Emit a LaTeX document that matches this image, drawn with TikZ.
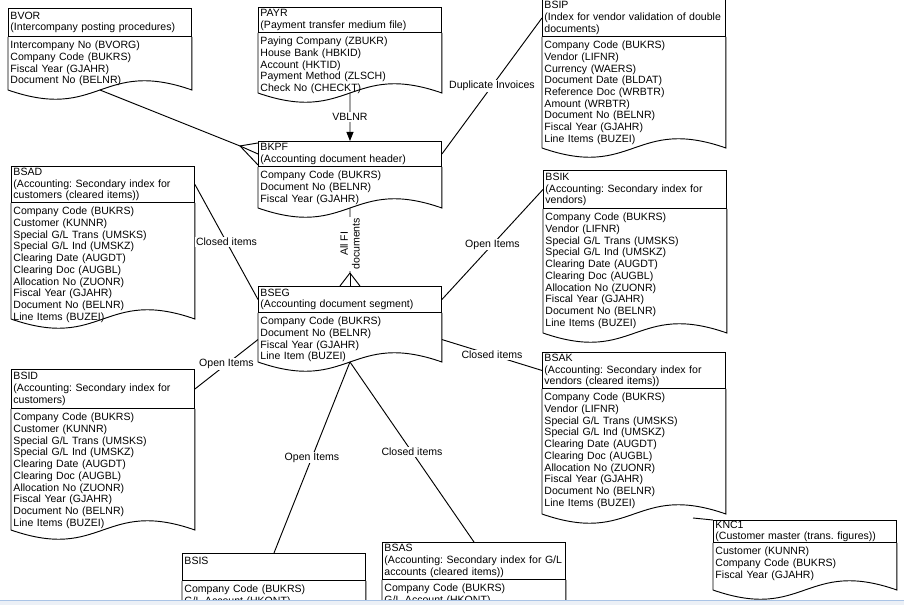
\documentclass[tikz,border=0pt]{standalone}
\usepackage{fontspec}
\setmainfont{Liberation Sans}
\usetikzlibrary{arrows.meta,calc}
\frenchspacing

\definecolor{framebar}{RGB}{170,196,230}
\definecolor{framefill}{RGB}{236,240,246}

\tikzset{
  tbltitle/.style={draw, anchor=north west, align=left, text width=53.7mm,
    inner xsep=0.6mm, inner ysep=0pt, font=\fontsize{9}{10}\selectfont},
  tblfields/.style={anchor=north west, align=left, text width=53.7mm,
    inner xsep=0.6mm, inner ysep=1.1mm, font=\fontsize{9}{10}\selectfont},
  lbl/.style={fill=white, inner sep=1pt, font=\fontsize{9}{10}\selectfont},
}

% tabla: nombre, x, y arriba, y separador, y bajo, titulo, campos
\newcommand{\erbox}[7]{%
  \pgfmathsetmacro\erh{(#4)-(#3)}
  \node[tbltitle, minimum height=\erh*0.3mm] (#1) at (#2,#3) {#6};
  \node[tblfields] (#1-f) at (#1.south west) {#7};
  \draw (#1.south west) -- (#1.south west |- 0,#5)
    .. controls +(91.5,32) and +(-91.5,-32) .. (#1.south east |- 0,#5)
    coordinate[pos=0.5] (#1-w) -- (#1.south east);
}

\begin{document}
\begin{tikzpicture}[x=0.3mm, y=-0.3mm, line width=0.8pt]
\useasboundingbox (0,0) rectangle (904,605);
\clip (0,0) rectangle (904,605);

% Tablas
\erbox{bvor}{8}{8}{36}{90}{BVOR\\(Intercompany posting procedures)}
  {Intercompany No (BVORG)\\Company Code (BUKRS)\\Fiscal Year (GJAHR)\\Document No (BELNR)}
\erbox{payr}{258}{7}{32}{93}{PAYR\\(Payment transfer medium file)}
  {Paying Company (ZBUKR)\\House Bank (HBKID)\\Account (HKTID)\\Payment Method (ZLSCH)\\Check No (CHECKT)}
\erbox{bsip}{542}{-1}{36}{148}{BSIP\\(Index for vendor validation of double\\documents)}
  {Company Code (BUKRS)\\Vendor (LIFNR)\\Currency (WAERS)\\Document Date (BLDAT)\\Reference Doc (WRBTR)\\Amount (WRBTR)\\Document No (BELNR)\\Fiscal Year (GJAHR)\\Line Items (BUZEI)}
\erbox{bkpf}{258}{141}{166}{208}{BKPF\\(Accounting document header)}
  {Company Code (BUKRS)\\Document No (BELNR)\\Fiscal Year (GJAHR)}
\erbox{bsad}{11}{166}{202}{319}{BSAD\\(Accounting: Secondary index for\\customers (cleared items))}
  {Company Code (BUKRS)\\Customer (KUNNR)\\Special G/L Trans (UMSKS)\\Special G/L Ind (UMSKZ)\\Clearing Date (AUGDT)\\Clearing Doc (AUGBL)\\Allocation No (ZUONR)\\Fiscal Year (GJAHR)\\Document No (BELNR)\\Line Items (BUZEI)}
\erbox{bsik}{543}{170}{208}{333}{BSIK\\(Accounting: Secondary index for\\vendors)}
  {Company Code (BUKRS)\\Vendor (LIFNR)\\Special G/L Trans (UMSKS)\\Special G/L Ind (UMSKZ)\\Clearing Date (AUGDT)\\Clearing Doc (AUGBL)\\Allocation No (ZUONR)\\Fiscal Year (GJAHR)\\Document No (BELNR)\\Line Items (BUZEI)}
\erbox{bseg}{258}{286}{312}{362}{BSEG\\(Accounting document segment)}
  {Company Code (BUKRS)\\Document No (BELNR)\\Fiscal Year (GJAHR)\\Line Item (BUZEI)}
\erbox{bsid}{11}{369}{408}{530}{BSID\\(Accounting: Secondary index for\\customers)}
  {Company Code (BUKRS)\\Customer (KUNNR)\\Special G/L Trans (UMSKS)\\Special G/L Ind (UMSKZ)\\Clearing Date (AUGDT)\\Clearing Doc (AUGBL)\\Allocation No (ZUONR)\\Fiscal Year (GJAHR)\\Document No (BELNR)\\Line Items (BUZEI)}
\erbox{bsak}{542}{352}{388}{514}{BSAK\\(Accounting: Secondary index for\\vendors (cleared items))}
  {Company Code (BUKRS)\\Vendor (LIFNR)\\Special G/L Trans (UMSKS)\\Special G/L Ind (UMSKZ)\\Clearing Date (AUGDT)\\Clearing Doc (AUGBL)\\Allocation No (ZUONR)\\Fiscal Year (GJAHR)\\Document No (BELNR)\\Line Items (BUZEI)}
\erbox{knc1}{713}{520}{542}{590}{KNC1\\(Customer master (trans. figures))}
  {Customer (KUNNR)\\Company Code (BUKRS)\\Fiscal Year (GJAHR)}
\erbox{bsis}{182}{553}{580}{650}{BSIS\\~}
  {Company Code (BUKRS)\\G/L Account (HKONT)}
\erbox{bsas}{382}{542}{579}{650}{BSAS\\(Accounting: Secondary index for G/L\\accounts (cleared items))}
  {Company Code (BUKRS)\\G/L Account (HKONT)}

% Relaciones
\coordinate (bkpf-cf) at ($(bkpf.west)+(-18,-8)$);
\draw (bvor-w) -- (bkpf-cf);
\foreach \off in {-11,0,11}
  \draw (bkpf-cf) -- ($(bkpf.west)+(0,\off)$);

\draw[-{Triangle[width=2.1mm,length=2.7mm]}] (payr-w) -- node[lbl] {VBLNR} (bkpf.north);
\draw (bsip.west) -- node[lbl] {Duplicate Invoices} (bkpf.east);

\coordinate (bseg-cf) at ($(bseg.north)+(0,-13)$);
\draw (bkpf-w) -- node[lbl, rotate=90, align=center, pos=0.55] {All FI\\documents} (bseg-cf);
\foreach \off in {-10,0,10}
  \draw (bseg-cf) -- ($(bseg.north)+(\off,0)$);

\draw (bsad.east) -- node[lbl] {Closed items} (bseg.west);
\draw (bsik.west) -- node[lbl] {Open Items} (bseg.east);
\draw (bseg-f.west) -- node[lbl] {Open Items} (bsid.east);
\draw (bseg-f.east) -- node[lbl] {Closed items} (bsak.west);
\draw (bseg-w) -- node[lbl] {Open Items} (bsis.north);
\draw (bseg-w) -- node[lbl] {Closed items} (bsas.north);

\coordinate (knc1-in) at ($(knc1.north west)+(-20,-2)$);
\draw (knc1-in) -- (knc1.north west);

% Borde de la ventana
\fill[framefill] (0,600) rectangle (904,605);
\draw[framebar] (0,600) -- (904,600);
\end{tikzpicture}
\end{document}
